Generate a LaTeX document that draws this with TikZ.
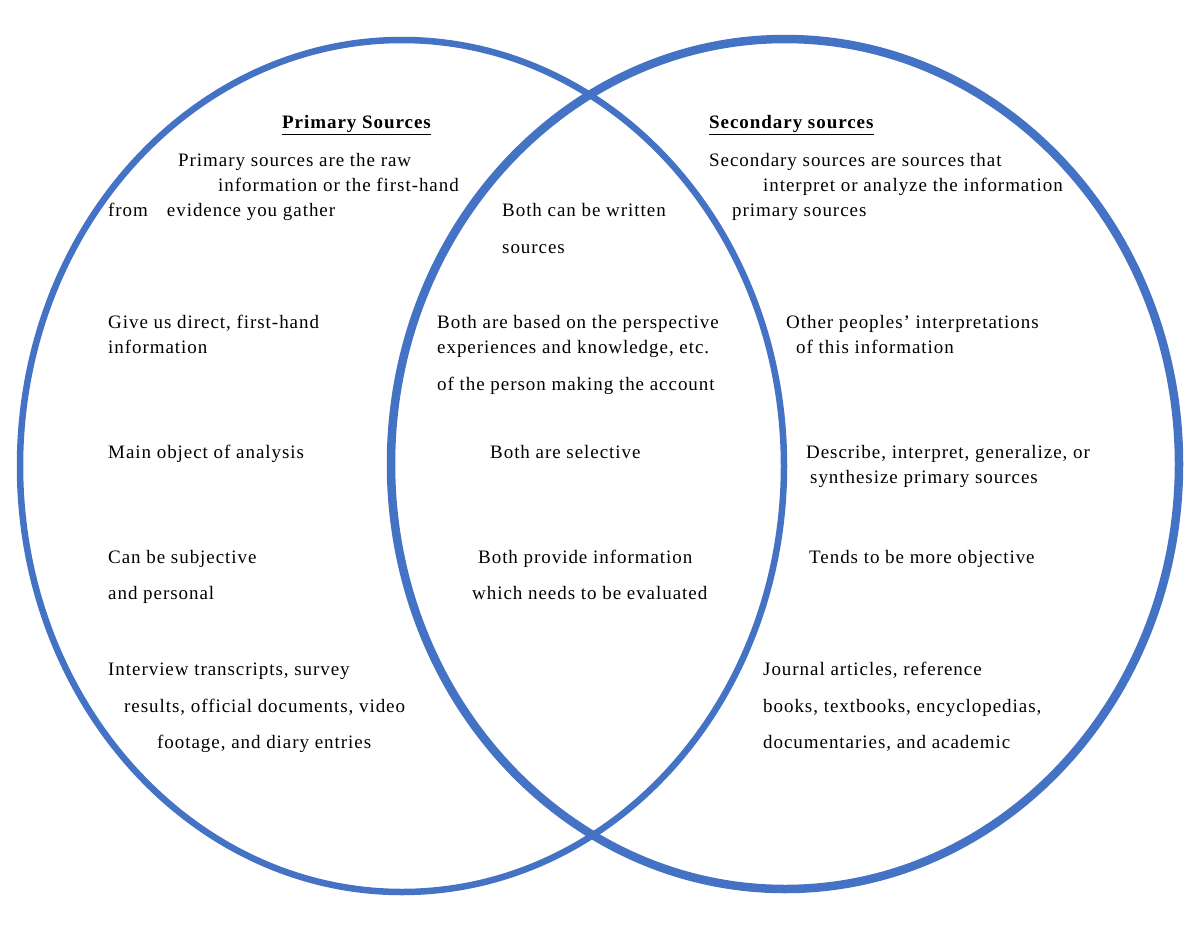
\documentclass[tikz,border=0pt]{standalone}
\usepackage{fontspec}
\setmainfont{Liberation Serif}[LetterSpace=5]
\definecolor{vblue}{HTML}{4472C4}
\begin{document}
\begin{tikzpicture}[x=1pt,y=-1pt,
  t/.style={anchor=mid west,inner sep=0pt,yshift=-4pt,font=\fontsize{19}{22}\selectfont},
  h/.style={t,font=\fontsize{19}{22}\selectfont\bfseries}]
\useasboundingbox[fill=white] (0,0) rectangle (1200,927);
\draw[vblue,line width=6.5] (402,466) ellipse [x radius=382,y radius=426];
\draw[vblue,line width=8.5] (785,464) ellipse [x radius=394,y radius=425];
\node[h] (ph) at (282,122) {\underline{Primary Sources}};
\node[t] (p1) at (178,160) {Primary sources are the raw};
\node[t] (p2) at (218,185) {information or the first-hand};
\node[t] (p3) at (108,210) {from\quad evidence you gather};
\node[t] (b1) at (502,210) {Both can be written};
\node[t] (b2) at (502,247) {sources};
\node[h] (sh) at (709,122) {\underline{Secondary sources}};
\node[t] (s1) at (709,160) {Secondary sources are sources that};
\node[t] (s2) at (763,185) {interpret or analyze the information};
\node[t] (s3) at (732,210) {primary sources};
\node[t] (p4) at (108,322) {Give us direct, first-hand};
\node[t] (p5) at (108,347) {information};
\node[t] (b3) at (437,322) {Both are based on the perspective};
\node[t] (b4) at (437,347) {experiences and knowledge, etc.};
\node[t] (b5) at (437,384) {of the person making the account};
\node[t] (s4) at (786,322) {Other peoples’ interpretations};
\node[t] (s5) at (796,347) {of this information};
\node[t] (p6) at (108,452) {Main object of analysis};
\node[t] (b6) at (490,452) {Both are selective};
\node[t] (s6) at (806,452) {Describe, interpret, generalize, or};
\node[t] (s7) at (810,477) {synthesize primary sources};
\node[t] (p7) at (108,557) {Can be subjective};
\node[t] (p8) at (108,593) {and personal};
\node[t] (b7) at (478,557) {Both provide information};
\node[t] (b8) at (472,593) {which needs to be evaluated};
\node[t] (s8) at (809,557) {Tends to be more objective};
\node[t] (p9) at (108,669) {Interview transcripts, survey};
\node[t] (p10) at (124,706) {results, official documents, video};
\node[t] (p11) at (157,742) {footage, and diary entries};
\node[t] (s9) at (763,669) {Journal articles, reference};
\node[t] (s10) at (763,706) {books, textbooks, encyclopedias,};
\node[t] (s11) at (763,742) {documentaries, and academic};
\end{tikzpicture}
\end{document}
